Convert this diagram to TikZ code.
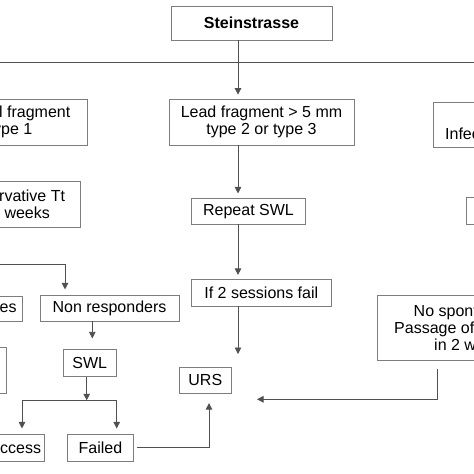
\documentclass[tikz,border=0pt]{standalone}
\usepackage{fontspec}
\setmainfont{Liberation Sans}
\usetikzlibrary{arrows.meta}
\definecolor{boxc}{RGB}{125,125,125}
\definecolor{linec}{RGB}{80,80,80}
\begin{document}
\begin{tikzpicture}[x=1pt,y=1pt,
  txt/.style={font=\fontsize{16}{17}\selectfont},
  box/.style={draw=boxc, line width=0.8pt, inner sep=0pt, align=center, txt},
  conn/.style={draw=linec, line width=0.8pt},
  arr/.style={conn, -{Triangle[width=6.5pt,length=6.5pt]}},
]
\useasboundingbox (0,0) rectangle (474,-474);
\clip (0,0) rectangle (474,-474);
\fill[white] (0,0) rectangle (474,-474);

% nodes
\node[box, minimum width=161pt, minimum height=34pt, font=\bfseries\fontsize{16}{17}\selectfont] (stein) at (251.5,-23) {Steinstrasse};
\node[box, minimum width=185pt, minimum height=46pt] (lead) at (261.5,-122) {Lead fragment > 5 mm\\type 2 or type 3};
\node[box, minimum width=141pt, minimum height=46pt] (small) at (16.5,-122) {Small fragment\\type 1\hspace*{12pt}};
\node[box, minimum width=200pt, minimum height=45pt, anchor=north west] (infect) at (432.5,-102) {};
\node[txt, anchor=west, inner sep=0pt] (infecttxt) at (445,-134) {Infection};
\node[box, minimum width=143.4pt, minimum height=45.3pt] (cons) at (9,-204.3) {Conservative Tt\\for 4 weeks};
\node[box, minimum width=113.6pt, minimum height=25.7pt] (repeat) at (248.5,-211.2) {Repeat SWL};
\node[box, minimum width=108pt, minimum height=27pt, anchor=west] (right2) at (466,-210.5) {};
\node[box, minimum width=139.3pt, minimum height=26.2pt] (if2) at (261.3,-292.9) {If 2 sessions fail};
\node[box, minimum width=189.4pt, minimum height=65.7pt] (nospon) at (472,-327.8) {No spontaneous\\Passage of fragments\\in 2 weeks};
\node[box, minimum width=100pt, minimum height=25pt, anchor=east] (resp) at (22.3,-308.5) {};
\node[txt, anchor=east, inner sep=0pt] (resptxt) at (16.8,-308.5) {Responses};
\node[box, minimum width=139pt, minimum height=25.7pt] (nonresp) at (109.5,-308.2) {Non responders};
\node[box, minimum width=133.4pt, minimum height=46pt] (left4) at (-60,-370) {};
\node[box, minimum width=52.7pt, minimum height=27pt] (swl) at (89.7,-362.8) {SWL};
\node[box, minimum width=52.7pt, minimum height=26pt] (urs) at (205.3,-380) {URS};
\node[box, minimum width=67pt, minimum height=26.7pt] (success) at (10.8,-447.7) {Success};
\node[box, minimum width=65.6pt, minimum height=26.7pt] (failed) at (100.5,-447.7) {Failed};

% coordinates
\coordinate (cx) at (238,0);
\coordinate (hl) at (-5,-62);
\coordinate (hr) at (479,-62);
\coordinate (t1) at (238,-354);
\coordinate (nx) at (437,0);
\coordinate (n2) at (257,-399.3);
\coordinate (l0) at (-5,-264.3);
\coordinate (lx) at (65,0);
\coordinate (sx) at (92.3,0);
\coordinate (bx) at (86.7,0);
\coordinate (bj) at (86.7,-400.3);
\coordinate (bl) at (22,-400.3);
\coordinate (br) at (116.7,-400.3);
\coordinate (ux) at (209,0);

% connectors
\draw[conn] (hl) -- (hr);
\draw[arr, shorten >=4pt] (stein.south -| cx) -- (lead.north -| cx);
\draw[arr, shorten >=4.5pt] (lead.south -| cx) -- (repeat.north -| cx);
\draw[arr, shorten >=4.5pt] (repeat.south -| cx) -- (if2.north -| cx);
\draw[arr] (if2.south -| cx) -- (t1);
\draw[arr, shorten <=8pt] (nospon.south -| nx) |- (n2);
\draw[arr, shorten >=5.5pt] (l0) -| (nonresp.north -| lx);
\draw[arr, shorten >=10.5pt] (nonresp.south -| sx) -- (swl.north -| sx);
\draw[arr] (swl.south -| bx) -- (bj);
\draw[conn] (bl) -- (br);
\draw[arr, shorten >=5.5pt] (bl) -- (success.north -| bl);
\draw[arr, shorten >=5.5pt] (br) -- (failed.north -| br);
\draw[arr, shorten <=3.4pt, shorten >=9.7pt] (failed.east) -| (urs.south -| ux);
\end{tikzpicture}
\end{document}
